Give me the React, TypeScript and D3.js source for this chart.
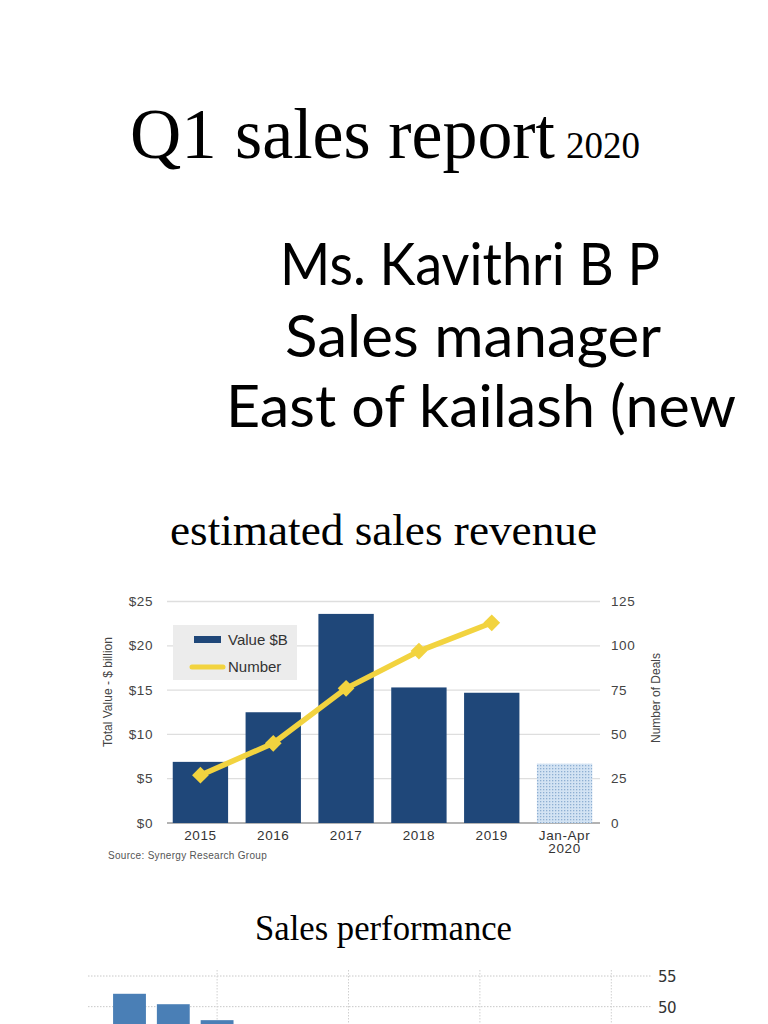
import React from "react";
import * as d3 from "d3";

// ---- data ----
const years = ["2015", "2016", "2017", "2018", "2019", "Jan-Apr 2020"];
const valueB = [6.9, 12.5, 23.6, 15.3, 14.7, 6.7];
const dealYears = ["2015", "2016", "2017", "2018", "2019"];
const deals = [27, 45, 76, 97, 113];
const leftTicks = [0, 5, 10, 15, 20, 25];
const rightTicks = [0, 25, 50, 75, 100, 125];

const perfCategories = ["1", "2", "3", "4", "5", "6", "7", "8", "9", "10", "11", "12", "13"];
const perfValues = [52.1, 50.4, 47.8];
const perfTicks = [50, 55];
const perfGridCats = ["3", "6", "9", "12"];

const SERIF = "'Liberation Serif', 'Times New Roman', serif";
const SANS = "'Liberation Sans', Arial, sans-serif";
const CAL = "Lato, 'Open Sans', sans-serif";

export default function App() {
  // top chart scales
  const x = d3.scaleBand<string>().domain(years).range([164, 601]).paddingInner(0.24).paddingOuter(0.12);
  const yL = d3.scaleLinear().domain([0, 25]).range([823, 601.5]);
  const yR = d3.scaleLinear().domain([0, 125]).range([823, 601.5]);
  const cx = (c: string) => (x(c) as number) + x.bandwidth() / 2;
  const line = d3
    .line<number>()
    .x((_, i) => cx(dealYears[i]))
    .y((d) => yR(d));
  const diamond = d3.symbol().type(d3.symbolSquare).size(140)();

  // bottom chart scales
  const xb = d3.scaleBand<string>().domain(perfCategories).range([107.6, 677]).paddingInner(0.25).paddingOuter(0.125);
  const yb = d3.scaleLinear().domain([40, 55]).range([1068, 976]);
  const cxb = (c: string) => (xb(c) as number) + xb.bandwidth() / 2;

  return (
    <svg
      width={768}
      height={1024}
      style={{ position: "absolute", left: 0, top: 0, display: "block", background: "#fff" }}
    >
      <defs>
        <pattern id="dots" width={3} height={3} patternUnits="userSpaceOnUse">
          <rect width={3} height={3} fill="#d3e3f3" />
          <rect width={1.3} height={1.3} fill="#8eafd2" />
        </pattern>
      </defs>

      {/* Titles */}
      <text x={130} y={158} fontFamily={SERIF} fontSize={71} fill="#000">Q1</text>
      <text x={235} y={158} fontFamily={SERIF} fontSize={71} fill="#000" textLength={320} lengthAdjust="spacingAndGlyphs">sales report</text>
      <text x={566} y={158} fontFamily={SERIF} fontSize={37} fill="#000">2020</text>

      <text x={280} y={285} fontFamily={CAL} fontSize={58} fill="#000" textLength={380} lengthAdjust="spacingAndGlyphs">Ms. Kavithri B P</text>
      <text x={285} y={357} fontFamily={CAL} fontSize={58} fill="#000" textLength={376} lengthAdjust="spacingAndGlyphs">Sales manager</text>
      <text x={226} y={427} fontFamily={CAL} fontSize={58} fill="#000" textLength={510} lengthAdjust="spacingAndGlyphs">East of kailash (new</text>

      <text x={170} y={545} fontFamily={SERIF} fontSize={44.5} fill="#000" textLength={427} lengthAdjust="spacingAndGlyphs">estimated sales revenue</text>

      {/* Top chart gridlines */}
      {leftTicks.map((t) => (
        <line key={"g" + t} x1={167} x2={600} y1={yL(t)} y2={yL(t)} stroke={t === 0 ? "#9a9a9a" : "#dedede"} strokeWidth={t === 0 ? 1.5 : 1.3} />
      ))}

      {/* Bars */}
      {years.map((c, i) => (
        <rect
          key={c}
          x={x(c)}
          y={yL(valueB[i])}
          width={x.bandwidth()}
          height={yL(0) - yL(valueB[i])}
          fill={i === years.length - 1 ? "url(#dots)" : "#1f4779"}
        />
      ))}

      {/* Line */}
      <path d={line(deals) || ""} fill="none" stroke="#f2d33f" strokeWidth={5.5} strokeLinejoin="round" />
      {deals.map((d, i) => (
        <path key={"m" + i} d={diamond || ""} transform={`translate(${cx(dealYears[i])},${yR(d)}) rotate(45)`} fill="#f2d33f" />
      ))}

      {/* Legend */}
      <rect x={173} y={625} width={124} height={55} fill="#ececec" />
      <rect x={194} y={636} width={27} height={7} fill="#1f4779" />
      <text x={228} y={645} fontFamily={SANS} fontSize={15} fill="#333">Value $B</text>
      <line x1={192} x2={223} y1={667} y2={667} stroke="#f2d33f" strokeWidth={5} strokeLinecap="round" />
      <text x={228} y={672} fontFamily={SANS} fontSize={15} fill="#333">Number</text>

      {/* Left axis labels */}
      {leftTicks.map((t) => (
        <text key={"l" + t} x={153} y={yL(t) + 4.5} textAnchor="end" fontFamily={SANS} fontSize={13.5} letterSpacing={0.6} fill="#444">
          {"$" + t}
        </text>
      ))}
      {/* Right axis labels */}
      {rightTicks.map((t) => (
        <text key={"r" + t} x={611} y={yR(t) + 4.5} textAnchor="start" fontFamily={SANS} fontSize={13.5} letterSpacing={0.6} fill="#444">
          {t}
        </text>
      ))}
      <text transform={`translate(112,692) rotate(-90)`} textAnchor="middle" fontFamily={SANS} fontSize={12} fill="#444">
        Total Value - $ billion
      </text>
      <text transform={`translate(660,698) rotate(-90)`} textAnchor="middle" fontFamily={SANS} fontSize={12} fill="#444">
        Number of Deals
      </text>

      {/* X labels */}
      {years.map((c) => {
        const parts = c === "Jan-Apr 2020" ? ["Jan-Apr", "2020"] : [c];
        return (
          <text key={"x" + c} x={cx(c)} y={840} textAnchor="middle" fontFamily={SANS} fontSize={13.5} letterSpacing={0.6} fill="#333">
            {parts.map((p, j) => (
              <tspan key={j} x={cx(c)} dy={j === 0 ? 0 : 13}>
                {p}
              </tspan>
            ))}
          </text>
        );
      })}
      <text x={108} y={859} fontFamily={SANS} fontSize={10} fill="#555" letterSpacing={0.3}>
        Source: Synergy Research Group
      </text>

      <text x={255} y={940} fontFamily={SERIF} fontSize={35} fill="#000" textLength={257} lengthAdjust="spacingAndGlyphs">Sales performance</text>

      {/* Bottom chart */}
      {perfTicks.map((t) => (
        <line key={"pg" + t} x1={88} x2={652} y1={yb(t)} y2={yb(t)} stroke="#c8c8c8" strokeWidth={1} strokeDasharray="1.5,1.5" />
      ))}
      {perfGridCats.map((c) => (
        <line key={"pv" + c} x1={cxb(c)} x2={cxb(c)} y1={970} y2={1024} stroke="#d0d0d0" strokeWidth={1} strokeDasharray="1.5,1.5" />
      ))}
      {perfValues.map((v, i) => (
        <rect key={"pb" + i} x={xb(perfCategories[i])} y={yb(v)} width={xb.bandwidth()} height={1024 - yb(v) + 60} fill="#4a7fb6" />
      ))}
      {perfTicks.map((t) => (
        <text key={"pt" + t} x={658} y={yb(t) + 6} fontFamily={"'DejaVu Sans', sans-serif"} fontSize={15} fill="#333" letterSpacing={-0.5}>
          {t}
        </text>
      ))}
    </svg>
  );
}
